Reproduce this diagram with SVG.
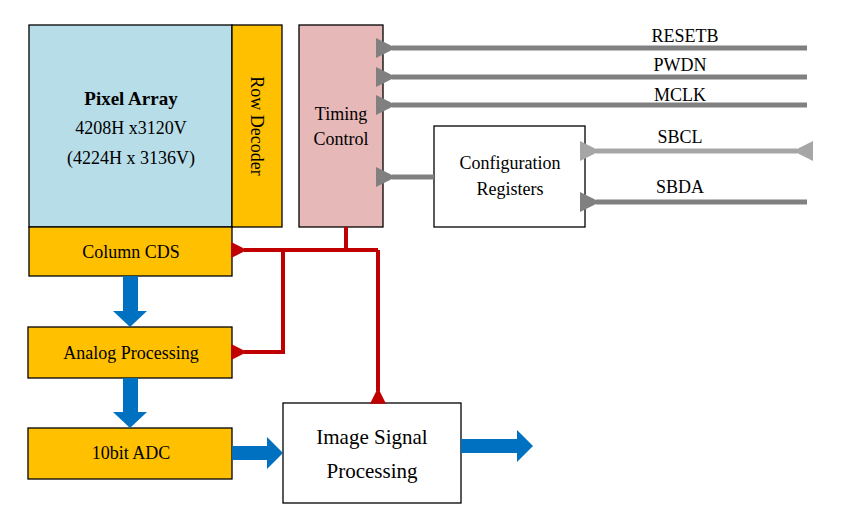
<svg xmlns="http://www.w3.org/2000/svg" width="850" height="529" viewBox="0 0 850 529">
<style>
text{font-family:"Liberation Serif","Times New Roman",serif;fill:#000;text-anchor:middle}
.b{stroke:#000;stroke-width:1.3}
.g{stroke:#808080;stroke-width:5;fill:none}
.gl{stroke:#a6a6a6;stroke-width:5;fill:none}
.r{stroke:#c00000;stroke-width:4;fill:none}
.t{font-size:18px}
</style>
<defs>
<marker id="ga" viewBox="0 0 10 10" refX="2" refY="5" markerWidth="4" markerHeight="4" orient="auto-start-reverse"><path d="M10,0 L0,5 L10,10 Z" fill="#808080"/></marker>
<marker id="gla" viewBox="0 0 10 10" refX="2" refY="5" markerWidth="4" markerHeight="4" orient="auto-start-reverse"><path d="M10,0 L0,5 L10,10 Z" fill="#a6a6a6"/></marker>
<marker id="ra" viewBox="0 0 10 10" refX="2" refY="5" markerWidth="4" markerHeight="4" orient="auto-start-reverse"><path d="M10,0 L0,5 L10,10 Z" fill="#c00000"/></marker>
</defs>
<g id="pixel-array"><rect class="b" x="29" y="25" width="203" height="202" fill="#b7dde8"/>
<text x="131" y="105" font-size="19" font-weight="bold">Pixel Array</text>
<text x="131" y="134" class="t">4208H x3120V</text>
<text x="131" y="164" class="t">(4224H x 3136V)</text></g>
<g id="row-decoder"><rect class="b" x="232" y="25" width="50" height="202" fill="#ffc000"/>
<text transform="translate(251,126) rotate(90)" class="t">Row Decoder</text></g>
<g id="timing-control"><rect class="b" x="299" y="25" width="84" height="202" fill="#e6b8b7"/>
<text x="341" y="120" class="t">Timing</text><text x="341" y="145" class="t">Control</text></g>
<g id="config-registers"><rect class="b" x="434" y="126" width="151" height="101" fill="#fff"/>
<text x="510" y="169" class="t">Configuration</text><text x="510" y="195" class="t">Registers</text></g>
<g id="column-cds"><rect class="b" x="29" y="227" width="203" height="49" fill="#ffc000"/><text x="131" y="258" class="t">Column CDS</text></g>
<g id="analog"><rect class="b" x="28" y="327" width="204" height="51" fill="#ffc000"/><text x="131" y="359" class="t">Analog Processing</text></g>
<g id="adc"><rect class="b" x="28" y="428" width="204" height="51" fill="#ffc000"/><text x="131" y="459" class="t">10bit ADC</text></g>
<g id="isp"><rect class="b" x="283" y="403" width="178" height="100" fill="#fff"/>
<text x="372" y="444" font-size="21">Image Signal</text><text x="372" y="478" font-size="21">Processing</text></g>
<g id="labels">
<text x="685" y="42" class="t">RESETB</text><text x="680" y="71" class="t">PWDN</text><text x="680" y="101" class="t">MCLK</text>
<text x="680" y="143" class="t">SBCL</text><text x="680" y="193" class="t">SBDA</text></g>
<g id="connectors">
<path class="g" d="M807,48 H392" marker-end="url(#ga)"/>
<path class="g" d="M807,77 H392" marker-end="url(#ga)"/>
<path class="g" d="M807,105 H392" marker-end="url(#ga)"/>
<path class="g" d="M434,177 H392" marker-end="url(#ga)"/>
<path class="gl" d="M596,151 H797" marker-start="url(#gla)" marker-end="url(#gla)"/>
<path class="g" d="M807,202 H596" marker-end="url(#ga)"/>
<path class="r" d="M346,227 V250"/>
<path class="r" d="M378,250 H244" marker-end="url(#ra)"/>
<path class="r" d="M283,250 V352 H244" marker-end="url(#ra)"/>
<path class="r" d="M378,250 V391" marker-end="url(#ra)"/>
<path fill="#0070c0" d="M123,276 H138 V311 H147 L130,327 L113,311 H123 Z"/>
<path fill="#0070c0" d="M123,378 H138 V412 H147 L130,428 L113,412 H123 Z"/>
<path fill="#0070c0" d="M232,446 H267 V437 L283,453 L267,469 V460 H232 Z"/>
<path fill="#0070c0" d="M461,439 H517 V430 L533,446 L517,462 V453 H461 Z"/>
</g>
</svg>
